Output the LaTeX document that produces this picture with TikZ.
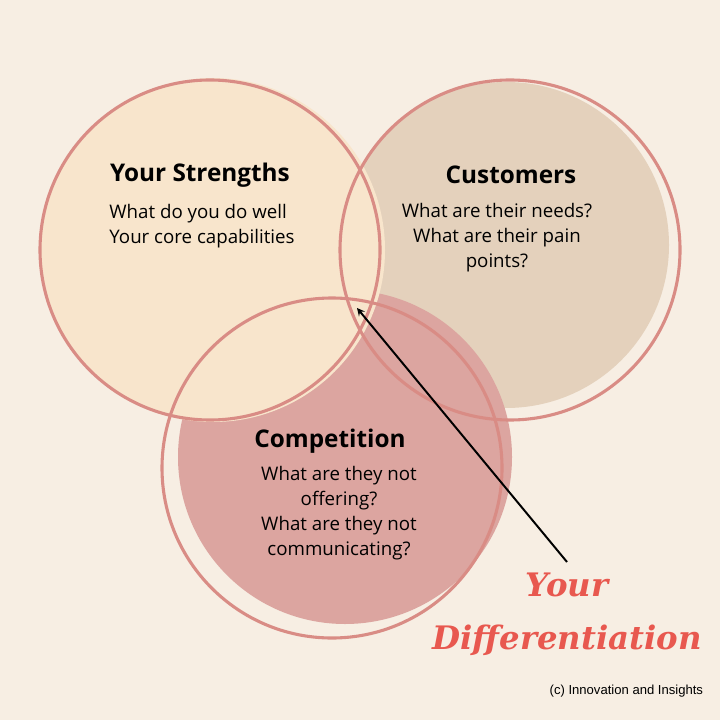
\documentclass[tikz,border=0pt]{standalone}
\usepackage{fontspec}
\setmainfont{Open Sans}
\newfontfamily\diffont{DejaVu Serif}
\newfontfamily\creditfont{Liberation Sans}
\usetikzlibrary{calc}
\definecolor{colorBG}{RGB}{247,238,227}
\definecolor{colorS}{RGB}{248,229,204}
\definecolor{colorC}{RGB}{228,209,188}
\definecolor{colorK}{RGB}{220,165,160}
\definecolor{colorRing}{RGB}{217,140,133}
\definecolor{colorRed}{RGB}{232,88,79}
\begin{document}
\begin{tikzpicture}[x=0.025cm,y=-0.025cm,
    ring/.style={draw=colorRing,line width=2.2pt},
    title/.style={font=\bfseries\fontsize{17.3}{22}\selectfont},
    body/.style={font=\fontsize{13.3}{17.8}\selectfont,align=center}]
  % Background and size
  \fill[colorBG] (0,0) rectangle (720,720);
  \useasboundingbox (0,0) rectangle (720,720);

  % Filled discs, slightly offset from their rings
  \fill[colorC] (506,245) circle (163);
  \fill[colorK] (345,457) circle (167);
  \fill[colorS] (213,250) circle (172);

  % Rings on top
  \draw[ring] (210,250) circle (170);
  \draw[ring] (510,250) circle (170);
  \draw[ring] (332,468) circle (170);

  % Labels
  \node[title] (strengths) at (200,175) {Your Strengths};
  \node[body,align=left] (strengthsText) at (202,226) {What do you do well\\Your core capabilities};
  \node[title] (customers) at (511,175) {Customers};
  \node[body] (customersText) at (497,238) {What are their needs?\\What are their pain\\points?};
  \node[title] (competition) at (330,441) {Competition};
  \node[body] (competitionText) at (339,513) {What are they not\\offering?\\What are they not\\communicating?};

  % Arrow to the centre
  \coordinate (centre) at (357,308);
  \node[font=\diffont\bfseries\itshape\fontsize{23}{38}\selectfont,
        text=colorRed,align=center] (diff) at (567,614) {Your\\Differentiation};
  \coordinate (tail) at (567,562);
  \draw[-stealth,line width=1.4pt] (tail) -- (centre);

  \node[font=\creditfont\fontsize{9.3}{11}\selectfont,anchor=east] (credit) at (708,691)
    {(c) Innovation and Insights};
\end{tikzpicture}
\end{document}
